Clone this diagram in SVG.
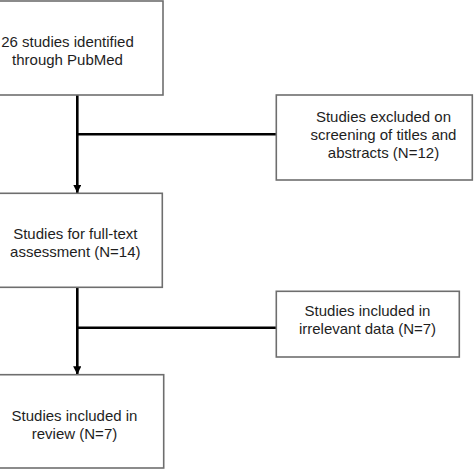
<svg xmlns="http://www.w3.org/2000/svg" width="474" height="474" viewBox="0 0 474 474">
<style>
.box{fill:#fff;stroke:#6e6e6e;stroke-width:1.6}
.t{font-family:"Liberation Sans",Arial,sans-serif;font-size:15px;fill:#1e1e1e;text-anchor:middle}
.ln{stroke:#000;stroke-width:2.6;fill:none}
</style>
<defs>
<marker id="ah" viewBox="0 0 10 10" refX="10" refY="5" markerWidth="3.2" markerHeight="3.2" orient="auto" markerUnits="strokeWidth">
<path d="M0,0 L10,5 L0,10 Z" fill="#000"/>
</marker>
</defs>
<rect width="474" height="474" fill="#fff"/>
<g id="connectors">
<line class="ln" x1="77.3" y1="95" x2="77.3" y2="193" marker-end="url(#ah)"/>
<line class="ln" x1="77.3" y1="134.3" x2="276" y2="134.3"/>
<line class="ln" x1="77.3" y1="287" x2="77.3" y2="374.5" marker-end="url(#ah)"/>
<line class="ln" x1="77.3" y1="327.7" x2="276" y2="327.7"/>
</g>
<g id="n1">
<rect class="box" x="-20" y="1" width="183" height="94"/>
<text class="t" x="67.5" y="47.3">26 studies identified</text>
<text class="t" x="67.5" y="65">through PubMed</text>
</g>
<g id="n2">
<rect class="box" x="276.3" y="95" width="196" height="85"/>
<text class="t" x="383.5" y="122">Studies excluded on</text>
<text class="t" x="383.5" y="140">screening of titles and</text>
<text class="t" x="383.5" y="158">abstracts (N=12)</text>
</g>
<g id="n3">
<rect class="box" x="-20" y="193.3" width="182.3" height="94"/>
<text class="t" x="75.3" y="239.3">Studies for full-text</text>
<text class="t" x="75.3" y="257.3">assessment (N=14)</text>
</g>
<g id="n4">
<rect class="box" x="276.3" y="291.3" width="183" height="65.7"/>
<text class="t" x="367.5" y="316">Studies included in</text>
<text class="t" x="367.5" y="333.7">irrelevant data (N=7)</text>
</g>
<g id="n5">
<rect class="box" x="-20" y="374.7" width="183.7" height="93.3"/>
<text class="t" x="74.5" y="421">Studies included in</text>
<text class="t" x="74.5" y="438.7">review (N=7)</text>
</g>
</svg>
